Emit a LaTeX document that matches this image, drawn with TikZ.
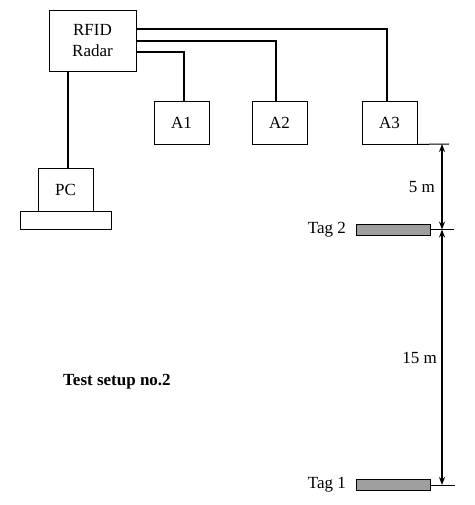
\documentclass[tikz,border=0pt]{standalone}
\usepackage{fontspec}
\setmainfont{Liberation Serif}
\usetikzlibrary{arrows.meta}
\begin{document}
\begin{tikzpicture}[x=1pt,y=-1pt,
  box/.style={draw,line width=0.8pt,inner sep=0pt,font=\fontsize{17}{20}\selectfont},
  wire/.style={line width=2pt},
  dim/.style={line width=1.5pt},
  tick/.style={line width=1pt},
  tag/.style={draw,line width=1pt,fill=gray!75,minimum width=74pt,minimum height=11pt,inner sep=0pt},
  lbl/.style={font=\fontsize{17}{20}\selectfont,inner sep=0pt}]
\useasboundingbox (0,0) rectangle (474,505);
\node[box,minimum width=87pt,minimum height=61pt,align=center] (rfid) at (92.5,40.5) {RFID\\[1pt]Radar};
\node[box,minimum width=55pt,minimum height=43pt] (a1) at (181.5,122.5) {A1};
\node[box,minimum width=55pt,minimum height=43pt] (a2) at (279.5,122.5) {A2};
\node[box,minimum width=55pt,minimum height=43pt] (a3) at (389.5,122.5) {A3};
\node[box,minimum width=55pt,minimum height=43pt] (pc) at (65.5,189.5) {PC};
\node[box,minimum width=91pt,minimum height=18pt,anchor=north] (base) at (pc.south) {};
\draw[wire] (rfid.east |- 0,29) -| (387,0 |- a3.north);
\draw[wire] (rfid.east |- 0,41) -| (276,0 |- a2.north);
\draw[wire] (rfid.east |- 0,52) -| (184,0 |- a1.north);
\draw[wire] (68,0 |- rfid.south) -- (68,0 |- pc.north);
\node[tag] (t2) at (393,229.5) {};
\node[tag] (t1) at (393,485) {};
\node[lbl,anchor=east] (t2l) at (346,229.5) {Tag 2};
\node[lbl,anchor=east] (t1l) at (346,485) {Tag 1};
\coordinate (r0) at (449,144);
\coordinate (r2) at (454,229.5);
\coordinate (r1) at (455,485);
\draw[tick] (a3.south east) -- (r0);
\draw[tick] (t2.east) -- (r2);
\draw[tick] (t1.east) -- (r1);
\coordinate (d0) at (442,144);
\coordinate (d2) at (442,229.5);
\coordinate (d1) at (442,485);
\draw[dim,{Stealth[length=8pt,width=6pt]}-{Stealth[length=8pt,width=6pt]}] (d0) -- (d2);
\draw[dim,{Stealth[length=8pt,width=6pt]}-{Stealth[length=8pt,width=6pt]}] (d2) -- (d1);
\node[lbl,anchor=east] (five) at (435,187) {5 m};
\node[lbl,anchor=east] (fifteen) at (437,358) {15 m};
\node[lbl,font=\bfseries\fontsize{17}{20}\selectfont,anchor=west] (title) at (63,382) {Test setup no.2};
\end{tikzpicture}
\end{document}
